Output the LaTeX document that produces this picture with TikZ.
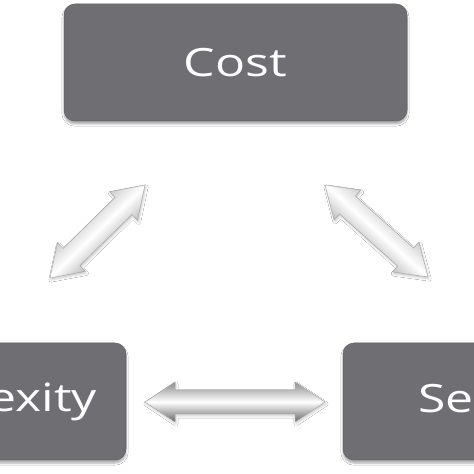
\documentclass[tikz,border=0pt]{standalone}
\usepackage{fontspec}
\setmainfont{Open Sans}
\usepackage{tikz}
\usetikzlibrary{calc,shadows.blur}
\definecolor{tilegray}{RGB}{111,111,115}
\newcommand\widelbl[1]{\scalebox{1.28}[1]{#1}}
\tikzset{
    tile/.style={rounded corners=11pt, minimum width=343pt, minimum height=117pt, fill=tilegray, draw=tilegray!85!black, line width=0.5pt,
      blur shadow={shadow xshift=0pt, shadow yshift=-3pt, shadow blur steps=6, shadow opacity=35}},
    tiletext/.style={text=white, font=\fontsize{39}{39}\selectfont, inner sep=0pt},
    dblarrow/.style={draw=black!35, line width=0.5pt, top color=black!45, bottom color=black!60, middle color=white, shading angle=#1,
      blur shadow={shadow xshift=1pt, shadow yshift=-2pt, shadow blur steps=4, shadow opacity=20},
      to path={(\tikztostart) -- ($(\tikztostart)!30pt!(\tikztotarget)!20pt!90:(\tikztotarget)$)
        -- ($(\tikztostart)!30pt!(\tikztotarget)!12pt!90:(\tikztotarget)$)
        -- ($(\tikztotarget)!30pt!(\tikztostart)!12pt!-90:(\tikztostart)$)
        -- ($(\tikztotarget)!30pt!(\tikztostart)!20pt!-90:(\tikztostart)$)
        -- (\tikztotarget)
        -- ($(\tikztotarget)!30pt!(\tikztostart)!20pt!90:(\tikztostart)$)
        -- ($(\tikztotarget)!30pt!(\tikztostart)!12pt!90:(\tikztostart)$)
        -- ($(\tikztostart)!30pt!(\tikztotarget)!12pt!-90:(\tikztotarget)$)
        -- ($(\tikztostart)!30pt!(\tikztotarget)!20pt!-90:(\tikztotarget)$) -- cycle}},
    dblarrow/.default=0
}
\begin{document}
\begin{tikzpicture}[x=1pt,y=1pt]
\useasboundingbox (0,0) rectangle (474,474);
\fill[white] (0,0) rectangle (474,474);
\clip (0,0) rectangle (474,474);

% the three tiles
\node[tile, tiletext] (cost) at (235.5,411.5) {\widelbl{Cost}};
\node[tile] (complx) at (-45.5,72.5) {};
\node[tile] (secur) at (514.5,72.5) {};
\node[tiletext, anchor=base east] (complxlbl) at (97,62) {\widelbl{exity}};
\node[tiletext, anchor=base west] (securlbl) at (418,61) {\widelbl{Se}};

% arrow ends
\coordinate (l1) at (50,196);
\coordinate (l2) at (145,289);
\coordinate (r1) at (325,289);
\coordinate (r2) at (428,197);
\coordinate (h1) at (145,72);
\coordinate (h2) at (325,72);

\path[dblarrow=44] (l1) to (l2);
\path[dblarrow=-42] (r1) to (r2);
\path[dblarrow] (h1) to (h2);
\end{tikzpicture}
\end{document}
